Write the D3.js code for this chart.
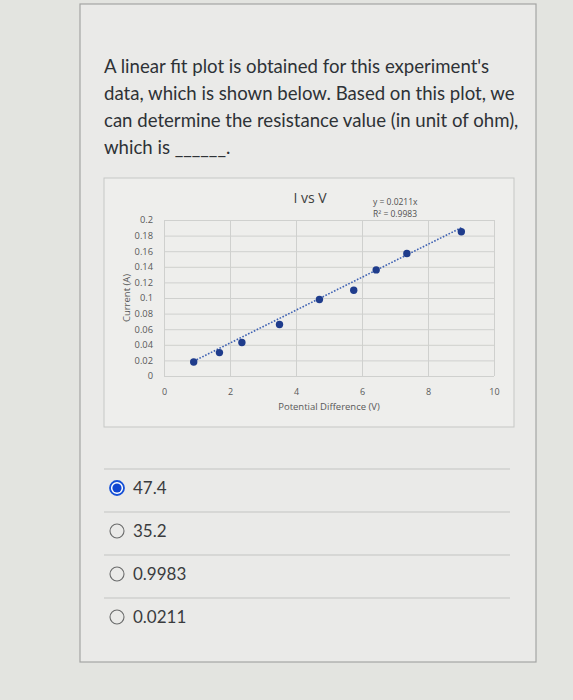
<!DOCTYPE html>
<html>
<head>
<meta charset="utf-8">
<script src="https://cdn.jsdelivr.net/npm/d3@7"></script>
<style>
  html, body { margin: 0; padding: 0; background: #e3e4e0; overflow: hidden; }
  svg { display: block; }
</style>
</head>
<body>
<svg width="573" height="700"></svg>
<script>
// data
const voltage = [0.9, 1.68, 2.36, 3.5, 4.71, 5.75, 6.43, 7.36, 9.01];
const current = [0.018, 0.030, 0.043, 0.066, 0.098, 0.110, 0.136, 0.157, 0.185];
const slope = 0.0211;
const rSquared = 0.9983;
const xTicks = [0, 2, 4, 6, 8, 10];
const yTicks = [0, 0.02, 0.04, 0.06, 0.08, 0.1, 0.12, 0.14, 0.16, 0.18, 0.2];

const questionLines = [
  "A linear fit plot is obtained for this experiment's",
  "data, which is shown below. Based on this plot, we",
  "can determine the resistance value (in unit of ohm),",
  "which is ______."
];
const choices = ["47.4", "35.2", "0.9983", "0.0211"];
const selected = 0;

const svg = d3.select("svg");

// page + card
svg.append("rect").attr("width", 573).attr("height", 700).attr("fill", "#e3e4e0");
svg.append("rect")
  .attr("x", 80).attr("y", 4).attr("width", 456).attr("height", 658)
  .attr("fill", "#eaeae8").attr("stroke", "#a4a5a3").attr("stroke-width", 1.2);

// question text
svg.append("g")
  .selectAll("text")
  .data(questionLines)
  .join("text")
  .attr("x", 104)
  .attr("y", (d, i) => 73 + i * 27)
  .attr("font-family", "Lato, sans-serif")
  .attr("font-size", 18.6)
  .attr("fill", "#2e3236")
  .text(d => d);

// chart box
svg.append("rect")
  .attr("x", 104).attr("y", 178).attr("width", 410).attr("height", 249)
  .attr("fill", "#eeeeec").attr("stroke", "#c6c7c5");

const x = d3.scaleLinear().domain([0, 10]).range([164, 494]);
const y = d3.scaleLinear().domain([0, 0.2]).range([376, 220]);

const chart = svg.append("g").attr("font-family", "'Open Sans', sans-serif");

// gridlines
chart.append("g")
  .attr("transform", `translate(0, ${y(0)})`)
  .call(d3.axisBottom(x).tickValues(xTicks).tickSize(-(y(0) - y(0.2))).tickFormat(""))
  .call(g => g.select(".domain").remove())
  .selectAll("line").attr("stroke", "#cfd0ce");

chart.append("g")
  .attr("transform", `translate(${x(0)}, 0)`)
  .call(d3.axisLeft(y).tickValues(yTicks).tickSize(-(x(10) - x(0))).tickFormat(""))
  .call(g => g.select(".domain").remove())
  .selectAll("line").attr("stroke", "#cfd0ce");

// tick labels
chart.append("g")
  .attr("transform", `translate(${x(0) - 8}, 0)`)
  .call(d3.axisLeft(y).tickValues(yTicks).tickSize(0).tickFormat(d => String(+d.toFixed(2))))
  .call(g => g.select(".domain").remove())
  .selectAll("text")
  .attr("font-size", 9.3).attr("fill", "#595959").attr("font-family", "'Open Sans', sans-serif");

chart.append("g")
  .attr("transform", `translate(0, ${y(0) + 10})`)
  .call(d3.axisBottom(x).tickValues(xTicks).tickSize(0))
  .call(g => g.select(".domain").remove())
  .selectAll("text")
  .attr("font-size", 9).attr("fill", "#595959").attr("font-family", "'Open Sans', sans-serif");

// trendline
chart.append("line")
  .attr("x1", x(d3.min(voltage))).attr("y1", y(slope * d3.min(voltage)))
  .attr("x2", x(d3.max(voltage))).attr("y2", y(slope * d3.max(voltage)))
  .attr("stroke", "#3f62b3").attr("stroke-width", 1.6)
  .attr("stroke-dasharray", "1.6 1.6");

// points
chart.append("g")
  .selectAll("circle")
  .data(voltage)
  .join("circle")
  .attr("cx", d => x(d))
  .attr("cy", (d, i) => y(current[i]))
  .attr("r", 3.7)
  .attr("fill", "#1f3c8c");

// titles
chart.append("text")
  .attr("x", 310).attr("y", 203)
  .attr("text-anchor", "middle")
  .attr("font-size", 14).attr("fill", "#404040")
  .text("I vs V");

const eq = chart.append("g")
  .attr("font-size", 8.5).attr("fill", "#505050");
eq.append("text").attr("x", 373).attr("y", 205).text(`y = ${slope}x`);
eq.append("text").attr("x", 373).attr("y", 217)
  .text("R² = " + rSquared);

chart.append("text")
  .attr("x", 329).attr("y", 410)
  .attr("text-anchor", "middle")
  .attr("font-size", 9.5).attr("fill", "#595959")
  .text("Potential Difference (V)");

chart.append("text")
  .attr("transform", `translate(127, ${(y(0) + y(0.2)) / 2}) rotate(-90)`)
  .attr("text-anchor", "middle")
  .attr("dy", "0.35em")
  .attr("font-size", 9.5).attr("fill", "#595959")
  .text("Current (A)");

// answer choices
const rowY = d3.scaleBand().domain(d3.range(choices.length)).range([469, 641]);

const rows = svg.append("g")
  .selectAll("g")
  .data(choices)
  .join("g")
  .attr("transform", (d, i) => `translate(0, ${rowY(i)})`);

rows.append("line")
  .attr("x1", 104).attr("x2", 510)
  .attr("y1", 0).attr("y2", 0)
  .attr("stroke", "#c3c4c2").attr("stroke-width", 1);

rows.append("circle")
  .attr("cx", 117).attr("cy", 19)
  .attr("r", 7)
  .attr("fill", (d, i) => i === selected ? "#ffffff" : "none")
  .attr("stroke", (d, i) => i === selected ? "#1550d6" : "#6a6b6b")
  .attr("stroke-width", (d, i) => i === selected ? 1.8 : 1.1);

rows.filter((d, i) => i === selected)
  .append("circle")
  .attr("cx", 117).attr("cy", 19)
  .attr("r", 4.6)
  .attr("fill", "#0f45d0");

rows.append("text")
  .attr("x", 133).attr("y", 25)
  .attr("font-family", "Lato, sans-serif")
  .attr("font-size", 17)
  .attr("fill", "#3a3c3e")
  .text(d => d);
</script>
</body>
</html>
